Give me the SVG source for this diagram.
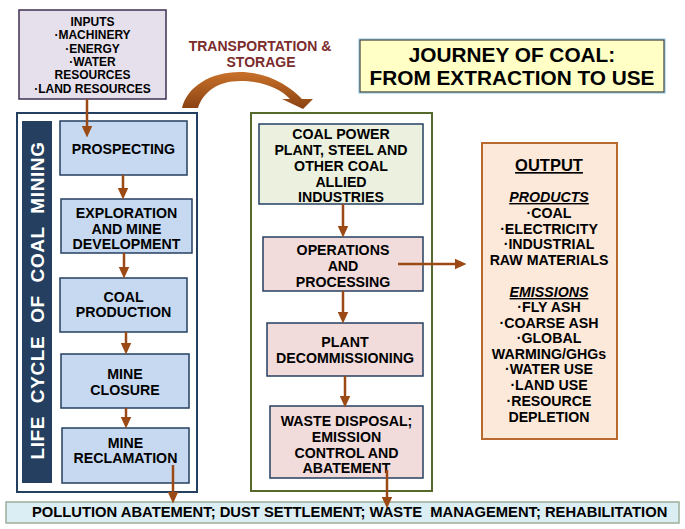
<svg xmlns="http://www.w3.org/2000/svg" width="685" height="529" viewBox="0 0 685 529">
<defs>
<style>
text { font-family: "Liberation Sans", Arial, sans-serif; font-weight: bold; fill: #000; }
.c { text-anchor: middle; }
.f14 { font-size: 14.2px; }
.f12 { font-size: 12px; }
.blue { fill: #C6D9F1; stroke: #243F60; stroke-width: 1.5; }
.pink { fill: #F2DCDB; stroke: #243F60; stroke-width: 1.5; }
.conn { stroke: #9C4A15; stroke-width: 2.5; fill: none; marker-end: url(#ah); }
</style>
<marker id="ah" markerUnits="userSpaceOnUse" markerWidth="12" markerHeight="11" viewBox="0 0 11 10" refX="5" refY="5" orient="auto">
<path d="M0,0 L11,5 L0,10 Z" fill="#9C4A15"/>
</marker>
<linearGradient id="tg" x1="0" y1="0" x2="0" y2="1">
<stop offset="0" stop-color="#C8712A"/>
<stop offset="1" stop-color="#8A4212"/>
</linearGradient>
</defs>
<rect width="685" height="529" fill="#fff"/>

<g id="inputs">
<rect x="19" y="10" width="147" height="89" fill="#E6E0EC" stroke="#3F3151" stroke-width="1.5"/>
<text class="c f12" x="92.5" y="25.5">INPUTS</text>
<text class="c f12" x="92.5" y="39">·MACHINERY</text>
<text class="c f12" x="92.5" y="52.5">·ENERGY</text>
<text class="c f12" x="92.5" y="65.5">·WATER</text>
<text class="c f12" x="92.5" y="79">RESOURCES</text>
<text class="c f12" x="92.5" y="92.5">·LAND RESOURCES</text>
</g>

<g id="transport">
<path d="M182,108 C187,87 210,72 240,72 C268,72 290,86 302,99 L313,99 L303,109 L282,99 L290,99 C280,88 262,81 240,81 C218,81 203,92 198,108 Z" fill="url(#tg)"/>
<text class="c" x="260" y="51" style="font-size:14px;fill:#7B2C2C">TRANSPORTATION &amp;</text>
<text class="c" x="261" y="67" style="font-size:14px;fill:#7B2C2C">STORAGE</text>
</g>

<g id="title">
<rect x="360" y="40" width="304" height="52" fill="none" stroke="#BFE4F6" stroke-width="4"/>
<rect x="360" y="40" width="304" height="52" fill="#FFFFC6" stroke="#404040" stroke-width="1.2"/>
<text class="c" x="512" y="61.5" style="font-size:20.8px">JOURNEY OF COAL:</text>
<text class="c" x="512" y="84.5" style="font-size:20.8px">FROM EXTRACTION TO USE</text>
</g>

<g id="lifecycle">
<rect x="17" y="113" width="180" height="379" fill="#fff" stroke="#243F60" stroke-width="2"/>
<rect x="22" y="121" width="30" height="362" fill="#243F60"/>
<text class="c" transform="translate(43.5,300.5) rotate(-90)" x="0" y="0" style="font-size:19px;fill:#fff;letter-spacing:0.6px;word-spacing:7px">LIFE CYCLE OF COAL MINING</text>
</g>

<g id="prospecting">
<rect class="blue" x="60" y="121" width="127" height="54"/>
<text class="c f14" x="123.5" y="154">PROSPECTING</text>
</g>
<g id="exploration">
<rect class="blue" x="61" y="199" width="131" height="54"/>
<text class="c f14" x="126.5" y="218">EXPLORATION</text>
<text class="c f14" x="126.5" y="234">AND MINE</text>
<text class="c f14" x="126.5" y="249">DEVELOPMENT</text>
</g>
<g id="production">
<rect class="blue" x="60" y="278" width="127" height="54"/>
<text class="c f14" x="123.5" y="302">COAL</text>
<text class="c f14" x="123.5" y="317">PRODUCTION</text>
</g>
<g id="closure">
<rect class="blue" x="61" y="354" width="128" height="54"/>
<text class="c f14" x="125" y="379">MINE</text>
<text class="c f14" x="125" y="395">CLOSURE</text>
</g>
<g id="reclamation">
<rect class="blue" x="62" y="428" width="127" height="55"/>
<text class="c f14" x="125.5" y="448">MINE</text>
<text class="c f14" x="125.5" y="463">RECLAMATION</text>
</g>

<g id="industry-frame">
<rect x="251" y="113" width="181" height="378" fill="#fff" stroke="#55692C" stroke-width="2"/>
</g>
<g id="powerplant">
<rect x="259" y="124" width="164" height="80" fill="#EBF1DE" stroke="#243F60" stroke-width="1.5"/>
<text class="c f14" x="341" y="139">COAL POWER</text>
<text class="c f14" x="341" y="155">PLANT, STEEL AND</text>
<text class="c f14" x="341" y="171">OTHER COAL</text>
<text class="c f14" x="341" y="187">ALLIED</text>
<text class="c f14" x="341" y="202">INDUSTRIES</text>
</g>
<g id="operations">
<rect class="pink" x="263" y="237" width="160" height="54"/>
<text class="c f14" x="343" y="255">OPERATIONS</text>
<text class="c f14" x="343" y="271">AND</text>
<text class="c f14" x="343" y="287">PROCESSING</text>
</g>
<g id="decommissioning">
<rect class="pink" x="267" y="323" width="156" height="53"/>
<text class="c f14" x="345" y="347">PLANT</text>
<text class="c f14" x="345" y="363">DECOMMISSIONING</text>
</g>
<g id="waste">
<rect class="pink" x="270" y="406" width="153" height="72"/>
<text class="c f14" x="346.5" y="426">WASTE DISPOSAL;</text>
<text class="c f14" x="346.5" y="442">EMISSION</text>
<text class="c f14" x="346.5" y="458">CONTROL AND</text>
<text class="c f14" x="346.5" y="473">ABATEMENT</text>
</g>

<g id="output">
<rect x="482" y="143" width="135" height="296" fill="#FDE9D9" stroke="#B86A2E" stroke-width="2"/>
<text class="c" x="549" y="171" style="font-size:16.5px;text-decoration:underline">OUTPUT</text>
<text class="c f14" x="549" y="202" style="font-style:italic;text-decoration:underline">PRODUCTS</text>
<text class="c f14" x="549" y="218">·COAL</text>
<text class="c f14" x="549" y="234">·ELECTRICITY</text>
<text class="c f14" x="549" y="249">·INDUSTRIAL</text>
<text class="c f14" x="549" y="265">RAW MATERIALS</text>
<text class="c f14" x="549" y="297" style="font-style:italic;text-decoration:underline">EMISSIONS</text>
<text class="c f14" x="549" y="312">·FLY ASH</text>
<text class="c f14" x="549" y="328">·COARSE ASH</text>
<text class="c f14" x="549" y="343">·GLOBAL</text>
<text class="c f14" x="549" y="359">WARMING/GHGs</text>
<text class="c f14" x="549" y="374">·WATER USE</text>
<text class="c f14" x="549" y="390">·LAND USE</text>
<text class="c f14" x="549" y="406">·RESOURCE</text>
<text class="c f14" x="549" y="422">DEPLETION</text>
</g>

<g id="bottom-bar">
<rect x="6" y="502" width="673" height="21" fill="#DBEEF4" stroke="#9AAF9A" stroke-width="1.5"/>
<text x="32" y="517" xml:space="preserve" style="font-size:14.75px">POLLUTION ABATEMENT; DUST SETTLEMENT; WASTE  MANAGEMENT; REHABILITATION</text>
</g>

<g id="connectors">
<path class="conn" d="M87,99 V131"/>
<path class="conn" d="M123,175 V193"/>
<path class="conn" d="M124,253 V272"/>
<path class="conn" d="M126,332 V348"/>
<path class="conn" d="M126,408 V422"/>
<path class="conn" d="M173,465 V497"/>
<path class="conn" d="M343,204 V231"/>
<path class="conn" d="M398,264 H460"/>
<path class="conn" d="M343,291 V317"/>
<path class="conn" d="M345,376 V401"/>
<path class="conn" d="M387,470 V502"/>
</g>
</svg>
